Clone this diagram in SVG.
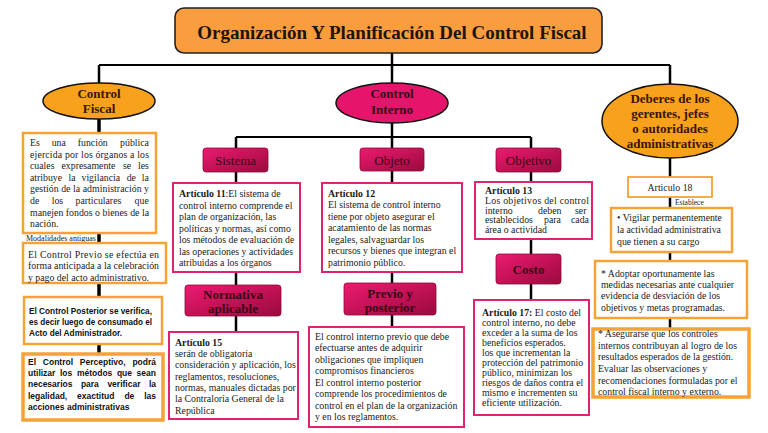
<svg xmlns="http://www.w3.org/2000/svg" width="768" height="433" viewBox="0 0 768 433" font-family="Liberation Serif, Times New Roman, serif">
<defs>
<linearGradient id="mag" x1="0" y1="0" x2="1" y2="1">
<stop offset="0" stop-color="#EE1A72"/>
<stop offset="1" stop-color="#9A0A3C"/>
</linearGradient>
<style>
.dgOBox{fill:#fff;stroke:#F5A236;stroke-width:2.5}
.dgOBoxT{fill:#fff;stroke:#F5A236;stroke-width:3.5}
.dgPBox{fill:#fff;stroke:#E0236F;stroke-width:2}
.dgMag{fill:url(#mag);stroke:#8a0a35;stroke-width:0.8}
.dgLn{stroke:#000;stroke-width:2.5;fill:none}
.dgLnT{stroke:#000;stroke-width:3.5;fill:none}
.dgHl{stroke:#000;stroke-width:1.8;fill:none}
</style>
</defs>
<rect width="768" height="433" fill="#fff"/>

<g id="connectors">
<line class="dgLn" x1="392" y1="52" x2="392" y2="65"/>
<line class="dgHl" x1="99" y1="65" x2="670" y2="65"/>
<line class="dgLn" x1="99" y1="65" x2="99" y2="83"/>
<line class="dgLn" x1="392" y1="65" x2="392" y2="83"/>
<line class="dgLn" x1="670" y1="65" x2="670" y2="84"/>
<line class="dgLnT" x1="99" y1="119" x2="99" y2="133"/>
<line class="dgLnT" x1="99" y1="233" x2="99" y2="243"/>
<line class="dgLnT" x1="99" y1="283" x2="99" y2="297"/>
<line class="dgLnT" x1="99" y1="344" x2="99" y2="354"/>
<line class="dgLn" x1="392" y1="123" x2="392" y2="148"/>
<line class="dgHl" x1="236" y1="137" x2="531" y2="137"/>
<line class="dgLn" x1="236" y1="137" x2="236" y2="148"/>
<line class="dgLn" x1="236" y1="172" x2="236" y2="183"/>
<line class="dgLn" x1="236" y1="272" x2="236" y2="285"/>
<line class="dgLn" x1="236" y1="316" x2="236" y2="332"/>
<line class="dgLn" x1="392" y1="171" x2="392" y2="183"/>
<line class="dgLn" x1="392" y1="272" x2="392" y2="283"/>
<line class="dgLn" x1="392" y1="315" x2="392" y2="327"/>
<line class="dgLn" x1="531" y1="137" x2="531" y2="148"/>
<line class="dgLn" x1="531" y1="172" x2="531" y2="182"/>
<line class="dgLn" x1="531" y1="239" x2="531" y2="254"/>
<line class="dgLn" x1="531" y1="284" x2="531" y2="300"/>
<line class="dgLn" x1="670" y1="158" x2="670" y2="177"/>
<line class="dgLn" x1="670" y1="197" x2="670" y2="208"/>
<line class="dgLn" x1="670" y1="252" x2="670" y2="261"/>
<line class="dgLn" x1="670" y1="318" x2="670" y2="329"/>
</g>

<g id="title">
<rect x="175" y="8" width="427" height="45" rx="9" fill="#F99D3E" stroke="#222" stroke-width="1.6"/>
<text x="392" y="39" font-size="19" font-weight="bold" text-anchor="middle" fill="#1e1408">Organización Y Planificación Del Control Fiscal</text>
</g>

<g id="control-fiscal">
<ellipse cx="99" cy="101" rx="56" ry="18" fill="#F7A11C" stroke="#111" stroke-width="1.5"/>
<g font-size="13" font-weight="bold" text-anchor="middle" fill="#3a1500">
<text x="99" y="98">Control</text>
<text x="99" y="113">Fiscal</text>
</g>
</g>

<g id="control-interno">
<ellipse cx="392" cy="103" rx="56" ry="20" fill="#E5156B" stroke="#111" stroke-width="1.5"/>
<g font-size="13" font-weight="bold" text-anchor="middle" fill="#3a0614">
<text x="392" y="98">Control</text>
<text x="392" y="114">Interno</text>
</g>
</g>

<g id="deberes">
<ellipse cx="670" cy="121" rx="68" ry="37" fill="#F7A11C" stroke="#111" stroke-width="1.5"/>
<g font-size="13" font-weight="bold" text-anchor="middle" fill="#3a1500">
<text x="670" y="103">Deberes de los</text>
<text x="670" y="118">gerentes, jefes</text>
<text x="670" y="133">o autoridades</text>
<text x="670" y="148">administrativas</text>
</g>
</g>

<g id="cf-definicion">
<rect class="dgOBox" x="23" y="133" width="133" height="100"/>
<g font-size="9.8" fill="#1a1a1a">
<text><tspan x="30" y="146">Es</tspan><tspan x="51.7" y="146">una</tspan><tspan x="77.8" y="146">función</tspan><tspan x="120.1" y="146">pública</tspan></text>
<text x="30" y="157.6" textLength="119" lengthAdjust="spacing">ejercida por los órganos a los</text>
<text><tspan x="30" y="169.2">cuales</tspan><tspan x="61.5" y="169.2">expresamente</tspan><tspan x="123" y="169.2">se</tspan><tspan x="138" y="169.2">les</tspan></text>
<text><tspan x="30" y="180.8">atribuye</tspan><tspan x="68.5" y="180.8">la</tspan><tspan x="81.5" y="180.8">vigilancia</tspan><tspan x="126.7" y="180.8">de</tspan><tspan x="141.8" y="180.8">la</tspan></text>
<text x="30" y="192.4" textLength="119" lengthAdjust="spacing">gestión de la administración y</text>
<text><tspan x="30" y="204">de</tspan><tspan x="51.7" y="204">los</tspan><tspan x="75.6" y="204">particulares</tspan><tspan x="134.6" y="204">que</tspan></text>
<text x="30" y="215.6" textLength="119" lengthAdjust="spacing">manejen fondos o bienes de la</text>
<text x="30" y="227.2">nación.</text>
</g>
</g>

<text x="26" y="241" font-size="8" fill="#222">Modalidades antiguas</text>

<g id="cf-previo">
<rect class="dgOBox" x="23" y="243" width="143" height="40"/>
<g font-size="9.8" fill="#1a1a1a">
<text x="28" y="257.5" textLength="131" lengthAdjust="spacing">El Control Previo se efectúa en</text>
<text x="28" y="269" textLength="131" lengthAdjust="spacing">forma anticipada a la celebración</text>
<text x="28" y="280.5">y pago del acto administrativo.</text>
</g>
</g>

<g id="cf-posterior">
<rect class="dgOBox" x="24" y="297" width="138" height="47"/>
<g font-family="Liberation Sans, Arial, sans-serif" font-size="8.5" font-weight="bold" fill="#111">
<text x="29" y="314" textLength="123" lengthAdjust="spacingAndGlyphs">El Control Posterior se verifica,</text>
<text x="29" y="325" textLength="123" lengthAdjust="spacingAndGlyphs">es decir luego de consumado el</text>
<text x="29" y="336" textLength="93" lengthAdjust="spacingAndGlyphs">Acto del Administrador.</text>
</g>
</g>

<g id="cf-perceptivo">
<rect class="dgOBoxT" x="23" y="354" width="140" height="66"/>
<g font-family="Liberation Sans, Arial, sans-serif" font-size="8.5" font-weight="bold" fill="#111">
<text><tspan x="28" y="365">El</tspan><tspan x="42.8" y="365">Control</tspan><tspan x="79.8" y="365">Perceptivo,</tspan><tspan x="132.4" y="365">podrá</tspan></text>
<text><tspan x="28" y="376.2">utilizar</tspan><tspan x="60" y="376.2">los</tspan><tspan x="76.9" y="376.2">métodos</tspan><tspan x="116.9" y="376.2">que</tspan><tspan x="136.6" y="376.2">sean</tspan></text>
<text><tspan x="28" y="387.4">necesarios</tspan><tspan x="80.9" y="387.4">para</tspan><tspan x="107.4" y="387.4">verificar</tspan><tspan x="149" y="387.4">la</tspan></text>
<text><tspan x="28" y="398.6">legalidad,</tspan><tspan x="77.1" y="398.6">exactitud</tspan><tspan x="124.4" y="398.6">de</tspan><tspan x="144.2" y="398.6">las</tspan></text>
<text><tspan x="28" y="409.8">acciones</tspan><tspan x="67" y="409.8">administrativas</tspan></text>
</g>
</g>

<g id="sistema">
<rect class="dgMag" x="203" y="148" width="65" height="24" rx="3"/>
<text x="235.5" y="165" font-size="13" text-anchor="middle" fill="#3a0614">Sistema</text>
</g>

<g id="articulo-11">
<rect class="dgPBox" x="173" y="183" width="127" height="89"/>
<g font-size="9.8" fill="#1a1a1a">
<text x="179" y="197"><tspan font-weight="bold">Artículo 11</tspan>:El sistema de</text>
<text x="179" y="208.5">control interno comprende el</text>
<text x="179" y="220">plan de organización, las</text>
<text x="179" y="231.5">políticas y normas, así como</text>
<text x="179" y="243">los métodos de evaluación de</text>
<text x="179" y="254.5">las operaciones y actividades</text>
<text x="179" y="266">atribuidas a los órganos</text>
</g>
</g>

<g id="normativa">
<rect class="dgMag" x="185" y="285" width="96" height="31" rx="3"/>
<g font-size="13" font-weight="bold" text-anchor="middle" fill="#3a0614">
<text x="233" y="298.5">Normativa</text>
<text x="233" y="313">aplicable</text>
</g>
</g>

<g id="articulo-15">
<rect class="dgPBox" x="169" y="332" width="129" height="87"/>
<g font-size="9.8" fill="#1a1a1a">
<text x="175" y="345.5" font-weight="bold">Artículo 15</text>
<text x="175" y="357">serán de obligatoria</text>
<text x="175" y="368.3">consideración y aplicación, los</text>
<text x="175" y="379.6">reglamentos, resoluciones,</text>
<text x="175" y="390.9">normas, manuales dictadas por</text>
<text x="175" y="402.2">la Contraloría General de la</text>
<text x="175" y="413.5">República</text>
</g>
</g>

<g id="objeto">
<rect class="dgMag" x="360" y="148" width="64" height="23" rx="3"/>
<text x="392" y="164.5" font-size="13" text-anchor="middle" fill="#3a0614">Objeto</text>
</g>

<g id="articulo-12">
<rect class="dgPBox" x="322" y="183" width="140" height="89"/>
<g font-size="9.8" fill="#1a1a1a">
<text x="328" y="196.5" font-weight="bold">Artículo 12</text>
<text x="328" y="208">El sistema de control interno</text>
<text x="328" y="219.5">tiene por objeto asegurar el</text>
<text x="328" y="231">acatamiento de las normas</text>
<text x="328" y="242.5">legales, salvaguardar los</text>
<text x="328" y="254">recursos y bienes que integran el</text>
<text x="328" y="265.5">patrimonio público.</text>
</g>
</g>

<g id="previo-posterior">
<rect class="dgMag" x="344" y="283" width="92" height="32" rx="3"/>
<g font-size="13" font-weight="bold" text-anchor="middle" fill="#3a0614">
<text x="390" y="297.5">Previo y</text>
<text x="390" y="311.5">posterior</text>
</g>
</g>

<g id="previo-texto">
<rect class="dgPBox" x="309" y="327" width="155" height="100"/>
<g font-size="9.8" fill="#1a1a1a">
<text x="315" y="339.5">El control interno previo que debe</text>
<text x="315" y="351">efectuarse antes de adquirir</text>
<text x="315" y="362.5">obligaciones que impliquen</text>
<text x="315" y="374">compromisos financieros</text>
<text x="315" y="385.5">El control interno posterior</text>
<text x="315" y="397">comprende los procedimientos de</text>
<text x="315" y="408.5">control en el plan de la organización</text>
<text x="315" y="420">y en los reglamentos.</text>
</g>
</g>

<g id="objetivo">
<rect class="dgMag" x="496" y="148" width="65" height="24" rx="3"/>
<text x="528.5" y="165" font-size="13" text-anchor="middle" fill="#3a0614">Objetivo</text>
</g>

<g id="articulo-13">
<rect class="dgPBox" x="475" y="182" width="117" height="57"/>
<g font-size="9.8" fill="#1a1a1a">
<text x="485" y="194" font-weight="bold">Artículo 13</text>
<text x="485" y="204" textLength="104" lengthAdjust="spacing">Los objetivos del control</text>
<text><tspan x="485" y="213.5">interno</tspan><tspan x="538" y="213.5">deben</tspan><tspan x="575" y="213.5">ser</tspan></text>
<text><tspan x="485" y="223">establecidos</tspan><tspan x="544" y="223">para</tspan><tspan x="571" y="223">cada</tspan></text>
<text x="485" y="232.5">área o actividad</text>
</g>
</g>

<g id="costo">
<rect class="dgMag" x="496" y="254" width="65" height="30" rx="3"/>
<text x="528.5" y="273.5" font-size="13" font-weight="bold" text-anchor="middle" fill="#3a0614">Costo</text>
</g>

<g id="articulo-17">
<rect class="dgPBox" x="474" y="300" width="115" height="115"/>
<g font-size="9.8" fill="#1a1a1a">
<text x="482" y="315.5"><tspan font-weight="bold">Artículo 17:</tspan> El costo del</text>
<text x="482" y="325.6">control interno, no debe</text>
<text x="482" y="335.7">exceder a la suma de los</text>
<text x="482" y="345.8">beneficios esperados.</text>
<text x="482" y="355.9">los que incrementan la</text>
<text x="482" y="366">protección del patrimonio</text>
<text x="482" y="376.1">público, minimizan los</text>
<text x="482" y="386.2">riesgos de daños contra el</text>
<text x="482" y="396.3">mismo e incrementen su</text>
<text x="482" y="406.4">eficiente utilización.</text>
</g>
</g>

<g id="articulo-18">
<rect fill="#fff" stroke="#F5A236" stroke-width="1.8" x="628" y="177" width="84" height="20"/>
<text x="670" y="190.5" font-size="9.8" fill="#1a1a1a" text-anchor="middle">Articulo 18</text>
</g>

<text x="675" y="205" font-size="7.5" fill="#222">Establece</text>

<g id="vigilar">
<rect class="dgOBox" x="611" y="208" width="121" height="44"/>
<g font-size="9.8" fill="#1a1a1a">
<text x="617" y="220.5">• Vigilar permanentemente</text>
<text x="617" y="233">la actividad administrativa</text>
<text x="617" y="245">que tienen a su cargo</text>
</g>
</g>

<g id="adoptar">
<rect class="dgOBox" x="595" y="261" width="152" height="57"/>
<g font-size="9.8" fill="#1a1a1a">
<text x="601" y="276.5">* Adoptar oportunamente las</text>
<text x="601" y="288">medidas necesarias ante cualquier</text>
<text x="601" y="299.3">evidencia de desviación de los</text>
<text x="601" y="310.6">objetivos y metas programadas.</text>
</g>
</g>

<g id="asegurarse">
<rect class="dgOBoxT" x="593" y="329" width="156" height="68"/>
<g font-size="9.8" fill="#1a1a1a">
<text x="598" y="337">* Asegurarse que los controles</text>
<text x="598" y="348.7">internos contribuyan al logro de los</text>
<text x="598" y="360.4">resultados esperados de la gestión.</text>
<text x="598" y="372">Evaluar las observaciones y</text>
<text x="598" y="383.7">recomendaciones formuladas por el</text>
<text x="598" y="395.3">control fiscal interno y externo.</text>
</g>
</g>
</svg>
